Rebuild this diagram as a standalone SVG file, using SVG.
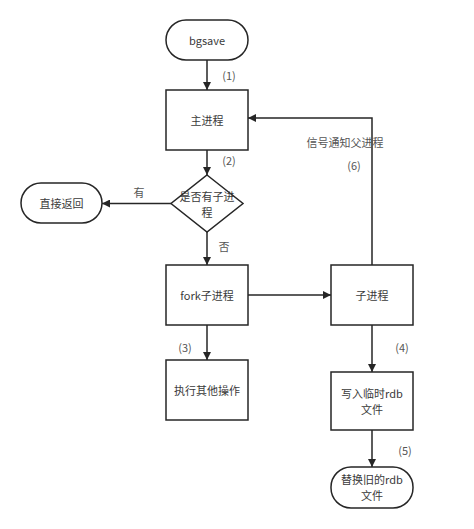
<svg xmlns="http://www.w3.org/2000/svg" width="474" height="529" viewBox="0 0 474 529">
<style>
.n{fill:#fff;stroke:#262626;stroke-width:1.5}
.t{font-family:"Noto Sans CJK SC","Liberation Sans",sans-serif;font-size:11px;fill:#3a3a3a;text-anchor:middle;dominant-baseline:central}
.l{font-family:"Noto Sans CJK SC","Liberation Sans",sans-serif;font-size:11px;fill:#555;text-anchor:middle;dominant-baseline:central}
.c{fill:none;stroke:#262626;stroke-width:1.5;marker-end:url(#a)}
</style>
<defs>
<marker id="a" viewBox="0 0 10 10" refX="10" refY="5" markerWidth="9" markerHeight="8" orient="auto" markerUnits="userSpaceOnUse">
<path d="M0,0 L10,5 L0,10 Z" fill="#262626"/>
</marker>
</defs>
<rect width="474" height="529" fill="#fff"/>
<g id="connectors">
<path class="c" d="M207,60 V90"/>
<path class="c" d="M207,150 V175"/>
<path class="c" d="M171,203.5 H102"/>
<path class="c" d="M207,232 V265"/>
<path class="c" d="M248,295 H331"/>
<path class="c" d="M207,325 V360"/>
<path class="c" d="M372,325 V372"/>
<path class="c" d="M372,430 V467"/>
<path class="c" d="M372,265 V118 H248"/>
<text class="l" x="229" y="75">(1)</text>
<text class="l" x="229" y="160">(2)</text>
<text class="l" x="139" y="192">有</text>
<text class="l" x="224" y="246">否</text>
<text class="l" x="185" y="347">(3)</text>
<text class="l" x="402" y="347">(4)</text>
<text class="l" x="405" y="450">(5)</text>
<text class="l" x="345" y="142">信号通知父进程</text>
<text class="l" x="354" y="165">(6)</text>
</g>
<g id="bgsave"><rect class="n" x="166" y="20" width="82" height="40" rx="20"/><text class="t" x="207" y="40">bgsave</text></g>
<g id="main"><rect class="n" x="166" y="90" width="82" height="60"/><text class="t" x="207" y="120">主进程</text></g>
<g id="decision"><path class="n" d="M207,175 L243,203.5 L207,232 L171,203.5 Z"/><text class="t" x="207" y="196">是否有子进</text><text class="t" x="207" y="212">程</text></g>
<g id="return"><rect class="n" x="21" y="183" width="81" height="40" rx="20"/><text class="t" x="61.5" y="203">直接返回</text></g>
<g id="fork"><rect class="n" x="166" y="265" width="82" height="60"/><text class="t" x="207" y="295">fork子进程</text></g>
<g id="child"><rect class="n" x="331" y="265" width="82" height="60"/><text class="t" x="372" y="295">子进程</text></g>
<g id="other"><rect class="n" x="166" y="360" width="82" height="60"/><text class="t" x="207" y="390">执行其他操作</text></g>
<g id="write"><rect class="n" x="331" y="372" width="82" height="58"/><text class="t" x="372" y="393">写入临时rdb</text><text class="t" x="372" y="409">文件</text></g>
<g id="replace"><rect class="n" x="331" y="467" width="82" height="41" rx="20"/><text class="t" x="372" y="479">替换旧的rdb</text><text class="t" x="372" y="495">文件</text></g>
</svg>
